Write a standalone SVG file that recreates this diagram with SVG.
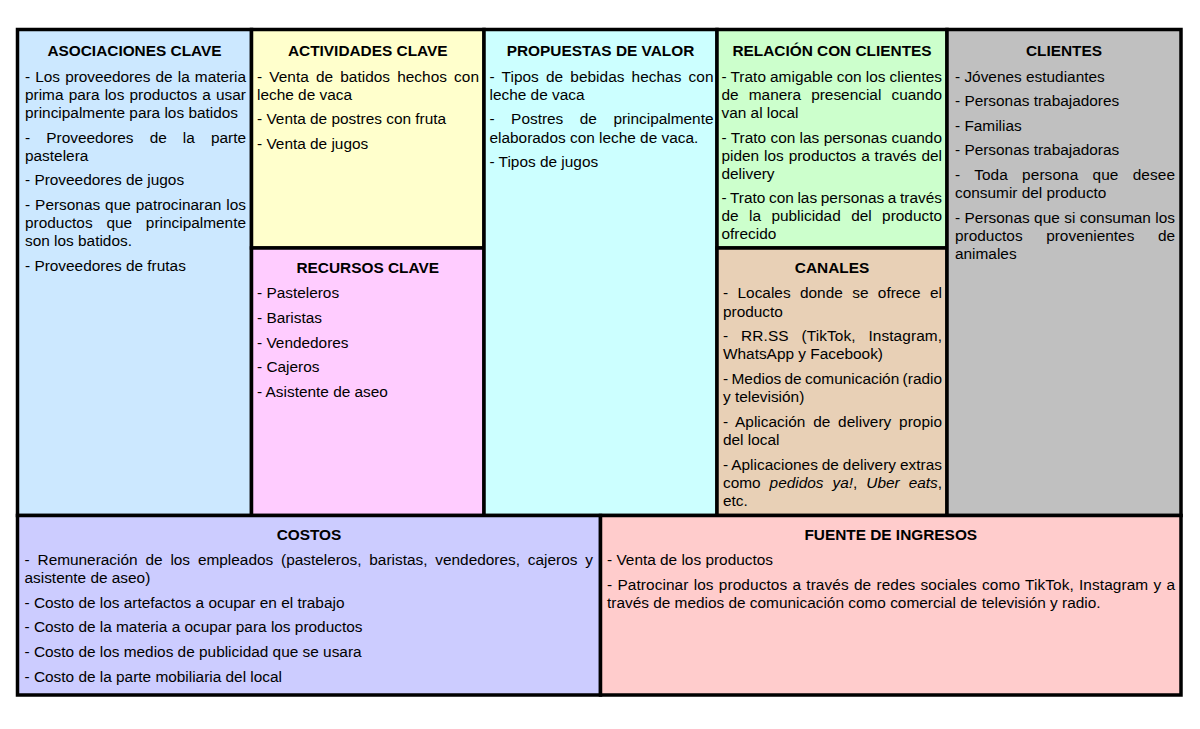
<svg xmlns="http://www.w3.org/2000/svg" width="1200" height="729" viewBox="0 0 1200 729">
<style>
.cell{stroke:#000;stroke-width:3.5}
text{font-family:"Liberation Sans",Arial,sans-serif;font-size:15.4px;fill:#000}
.h{font-weight:bold;text-anchor:middle}
</style>
<rect x="0" y="0" width="1200" height="729" fill="#fff"/>
<g id="asociaciones">
<rect class="cell" x="17.5" y="29.5" width="234" height="486" fill="#CCE8FF"/>
<text class="h" x="134.5" y="56">ASOCIACIONES CLAVE</text>
<text x="25" y="81.5" word-spacing="0.9" textLength="221" lengthAdjust="spacing">- Los proveedores de la materia</text>
<text x="25" y="99.7" word-spacing="0.9" textLength="221" lengthAdjust="spacing">prima para los productos a usar</text>
<text x="25" y="117.9">principalmente para los batidos</text>
<text x="25" y="142.5" word-spacing="11.8" textLength="221" lengthAdjust="spacing">- Proveedores de la parte</text>
<text x="25" y="160.7">pastelera</text>
<text x="25" y="185.3">- Proveedores de jugos</text>
<text x="25" y="209.9" word-spacing="0.7" textLength="221" lengthAdjust="spacing">- Personas que patrocinaran los</text>
<text x="25" y="228.1" word-spacing="9.5" textLength="221" lengthAdjust="spacing">productos que principalmente</text>
<text x="25" y="246.3">son los batidos.</text>
<text x="25" y="270.9">- Proveedores de frutas</text>
</g>
<g id="actividades">
<rect class="cell" x="251.5" y="29.5" width="232.5" height="218.5" fill="#FFFFCC"/>
<text class="h" x="367.75" y="56">ACTIVIDADES CLAVE</text>
<text x="257" y="81.5" word-spacing="2.8" textLength="222" lengthAdjust="spacing">- Venta de batidos hechos con</text>
<text x="257" y="99.7">leche de vaca</text>
<text x="257" y="124.3">- Venta de postres con fruta</text>
<text x="257" y="148.9">- Venta de jugos</text>
</g>
<g id="recursos">
<rect class="cell" x="251.5" y="248" width="232.5" height="267.5" fill="#FFCCFF"/>
<text class="h" x="367.75" y="273">RECURSOS CLAVE</text>
<text x="257" y="298.3">- Pasteleros</text>
<text x="257" y="323">- Baristas</text>
<text x="257" y="347.7">- Vendedores</text>
<text x="257" y="372.4">- Cajeros</text>
<text x="257" y="397.1">- Asistente de aseo</text>
</g>
<g id="propuestas">
<rect class="cell" x="484" y="29.5" width="233" height="486" fill="#CCFFFF"/>
<text class="h" x="600.5" y="56">PROPUESTAS DE VALOR</text>
<text x="489.5" y="81.5" word-spacing="2.86" textLength="224" lengthAdjust="spacing">- Tipos de bebidas hechas con</text>
<text x="489.5" y="99.7">leche de vaca</text>
<text x="489.5" y="124.3" word-spacing="12.2" textLength="224" lengthAdjust="spacing">- Postres de principalmente</text>
<text x="489.5" y="142.5">elaborados con leche de vaca.</text>
<text x="489.5" y="167.1">- Tipos de jugos</text>
</g>
<g id="relacion">
<rect class="cell" x="717" y="29.5" width="230" height="218.5" fill="#CCFFCC"/>
<text class="h" x="832" y="56">RELACIÓN CON CLIENTES</text>
<text x="721.5" y="81.5" word-spacing="-0.25" textLength="220.5" lengthAdjust="spacing">- Trato amigable con los clientes</text>
<text x="721.5" y="99.7" word-spacing="5.9" textLength="220.5" lengthAdjust="spacing">de manera presencial cuando</text>
<text x="721.5" y="117.9">van al local</text>
<text x="721.5" y="142.5" word-spacing="0" textLength="220.5" lengthAdjust="spacing">- Trato con las personas cuando</text>
<text x="721.5" y="160.7" word-spacing="0.6" textLength="220.5" lengthAdjust="spacing">piden los productos a través del</text>
<text x="721.5" y="178.9">delivery</text>
<text x="721.5" y="202.5" word-spacing="-0.77" textLength="220.5" lengthAdjust="spacing">- Trato con las personas a través</text>
<text x="721.5" y="220.7" word-spacing="6.1" textLength="220.5" lengthAdjust="spacing">de la publicidad del producto</text>
<text x="721.5" y="238.9">ofrecido</text>
</g>
<g id="canales">
<rect class="cell" x="717" y="248" width="230" height="267.5" fill="#E8D0B6"/>
<text class="h" x="832" y="273">CANALES</text>
<text x="723" y="298.3" word-spacing="5.1" textLength="219" lengthAdjust="spacing">- Locales donde se ofrece el</text>
<text x="723" y="316.5">producto</text>
<text x="723" y="341.1" word-spacing="8.5" textLength="219" lengthAdjust="spacing">- RR.SS (TikTok, Instagram,</text>
<text x="723" y="359.3">WhatsApp y Facebook)</text>
<text x="723" y="383.9" word-spacing="-0.9" textLength="219" lengthAdjust="spacing">- Medios de comunicación (radio</text>
<text x="723" y="402.1">y televisión)</text>
<text x="723" y="426.7" word-spacing="3.4" textLength="219" lengthAdjust="spacing">- Aplicación de delivery propio</text>
<text x="723" y="444.9">del local</text>
<text x="723" y="469.5" word-spacing="-0.45" textLength="219" lengthAdjust="spacing">- Aplicaciones de delivery extras</text>
<text x="723" y="487.7" word-spacing="4.7" textLength="219" lengthAdjust="spacing">como <tspan font-style="italic">pedidos ya!</tspan>, <tspan font-style="italic">Uber eats</tspan>,</text>
<text x="723" y="505.9">etc.</text>
</g>
<g id="clientes">
<rect class="cell" x="947" y="29.5" width="234" height="486" fill="#C0C0C0"/>
<text class="h" x="1064" y="56">CLIENTES</text>
<text x="955" y="81.5">- Jóvenes estudiantes</text>
<text x="955" y="106.1">- Personas trabajadores</text>
<text x="955" y="130.7">- Familias</text>
<text x="955" y="155.3">- Personas trabajadoras</text>
<text x="955" y="179.9" word-spacing="9.85" textLength="220" lengthAdjust="spacing">- Toda persona que desee</text>
<text x="955" y="198.1">consumir del producto</text>
<text x="955" y="222.7" word-spacing="0.18" textLength="220" lengthAdjust="spacing">- Personas que si consuman los</text>
<text x="955" y="240.9" word-spacing="19.25" textLength="220" lengthAdjust="spacing">productos provenientes de</text>
<text x="955" y="259.1">animales</text>
</g>
<g id="costos">
<rect class="cell" x="17.5" y="515.5" width="583" height="179.5" fill="#CCCCFF"/>
<text class="h" x="309" y="539.5">COSTOS</text>
<text x="24.5" y="565" word-spacing="3.6" textLength="568.5" lengthAdjust="spacing">- Remuneración de los empleados (pasteleros, baristas, vendedores, cajeros y</text>
<text x="24.5" y="583.2">asistente de aseo)</text>
<text x="24.5" y="607.8">- Costo de los artefactos a ocupar en el trabajo</text>
<text x="24.5" y="632.4">- Costo de la materia a ocupar para los productos</text>
<text x="24.5" y="657">- Costo de los medios de publicidad que se usara</text>
<text x="24.5" y="681.6">- Costo de la parte mobiliaria del local</text>
</g>
<g id="ingresos">
<rect class="cell" x="600.5" y="515.5" width="580.5" height="179.5" fill="#FFCCCC"/>
<text class="h" x="890.75" y="539.5">FUENTE DE INGRESOS</text>
<text x="607" y="565">- Venta de los productos</text>
<text x="607" y="589.6" word-spacing="0.83" textLength="568" lengthAdjust="spacing">- Patrocinar los productos a través de redes sociales como TikTok, Instagram y a</text>
<text x="607" y="607.8">través de medios de comunicación como comercial de televisión y radio.</text>
</g>
<g id="connectors"></g>
</svg>
